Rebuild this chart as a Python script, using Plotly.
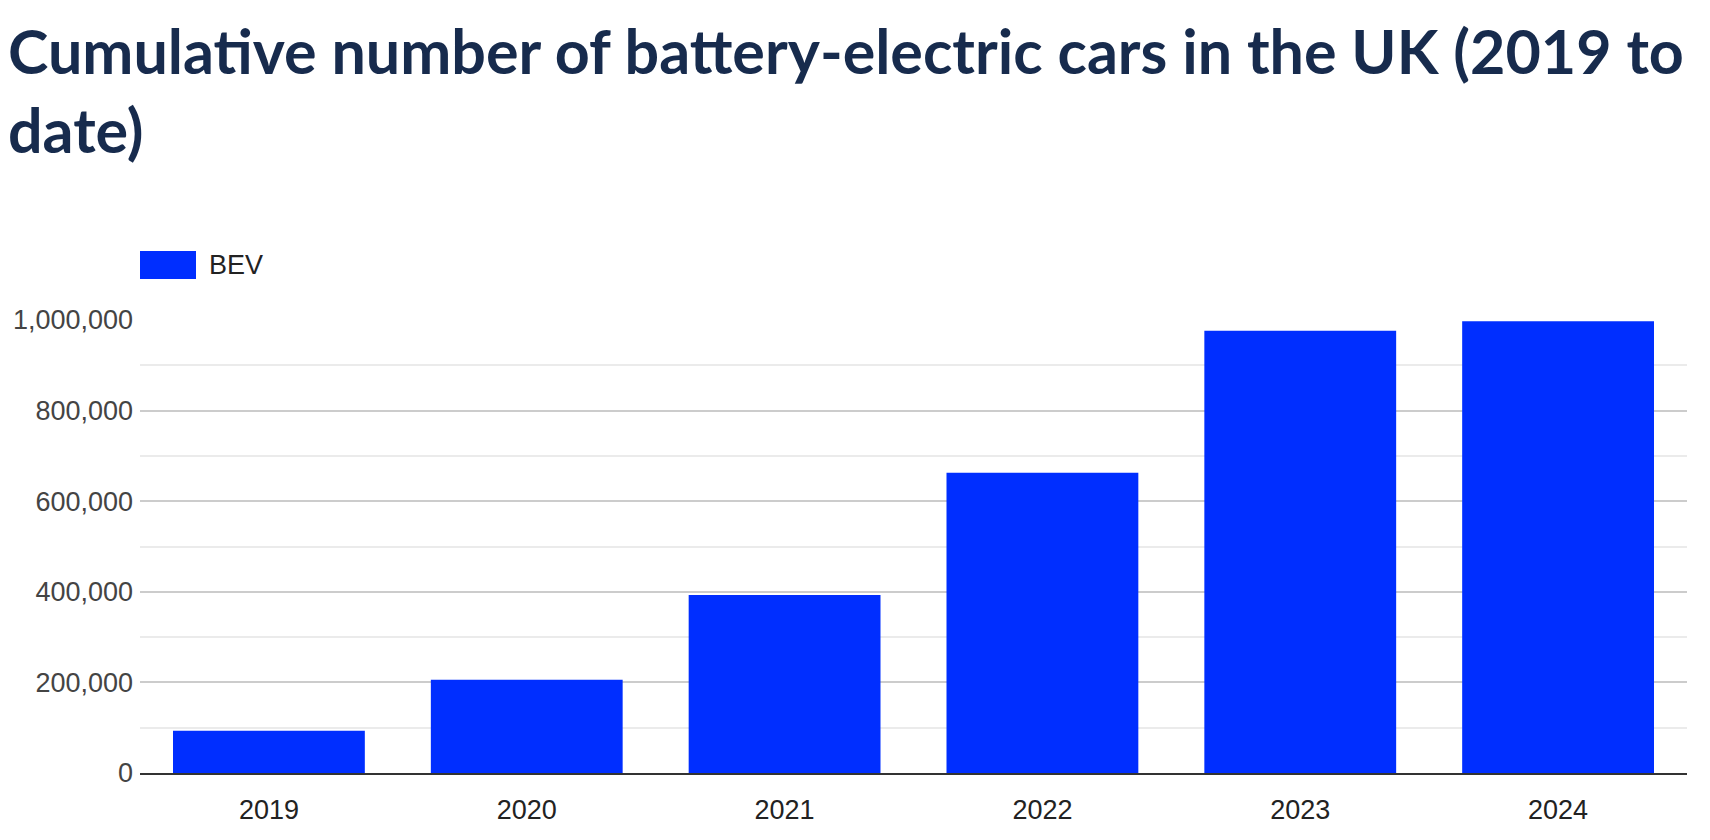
import plotly.graph_objects as go

# Data
years = ["2019", "2020", "2021", "2022", "2023", "2024"]
bev_cumulative = [93000, 206000, 393000, 663000, 976000, 997000]
series_name = "BEV"
y_tick_values = [0, 200000, 400000, 600000, 800000, 1000000]
title_text = "Cumulative number of battery-electric cars in the UK (2019 to<br>date)"

BAR_COLOR = "#002EFF"
TITLE_COLOR = "#172B4D"

# page body has an 8px margin, so the figure is slightly smaller than the window
OFF = 8
W, H = 1702, 832
ML, MR, MT, MB = 140 - OFF, 23, 320 - OFF, 67
plot_w = W - ML - MR
plot_h = H - MT - MB

fig = go.Figure()
fig.add_trace(go.Bar(
    x=years,
    y=bev_cumulative,
    name=series_name,
    marker=dict(color=BAR_COLOR, line=dict(width=0)),
    showlegend=False,
    hovertemplate="%{x}: %{y:,}<extra>" + series_name + "</extra>",
))

# Legend swatch + label (sized like the reference); screen-pixel helpers
def px_x(sx):
    return (sx - 140) / plot_w

def px_y(sy):
    return (773 - sy) / plot_h

fig.add_shape(type="rect", xref="paper", yref="paper",
              x0=px_x(140), x1=px_x(196), y0=px_y(279), y1=px_y(251),
              fillcolor=BAR_COLOR, line=dict(width=0))
fig.add_annotation(xref="paper", yref="paper", x=px_x(207), y=px_y(265),
                   text=series_name, showarrow=False, xanchor="left", yanchor="middle",
                   font=dict(family="Liberation Sans, Arial, sans-serif", size=27, color="#222222"))

fig.update_layout(
    width=W, height=H,
    margin=dict(l=ML, r=MR, t=MT, b=MB, pad=0, autoexpand=False),
    paper_bgcolor="white", plot_bgcolor="white",
    bargap=0.256,
    title=dict(
        text=title_text,
        x=0, xanchor="left", xref="container",
        y=1 - 66 / H, yanchor="top", yref="container",
        font=dict(family="Lato, sans-serif", size=61, color=TITLE_COLOR, weight=700),
    ),
    font=dict(family="Liberation Sans, Arial, sans-serif", size=27, color="#444444"),
    xaxis=dict(
        showline=True, linecolor="#333333", linewidth=2, automargin=False,
        showgrid=False, ticks="", ticklabelstandoff=12,
        tickfont=dict(color="#222222", size=27),
    ),
    yaxis=dict(
        range=[0, 1000000], tickvals=y_tick_values, tickformat=",", automargin=False,
        showgrid=True, gridcolor="#cccccc", gridwidth=2,
        zeroline=False, showline=False, ticks="", ticklabelstandoff=6,
        tickfont=dict(color="#444444", size=27),
        minor=dict(dtick=100000, tick0=0, showgrid=True, gridcolor="#ebebeb", gridwidth=2),
    ),
)

fig.write_html("out.html")
